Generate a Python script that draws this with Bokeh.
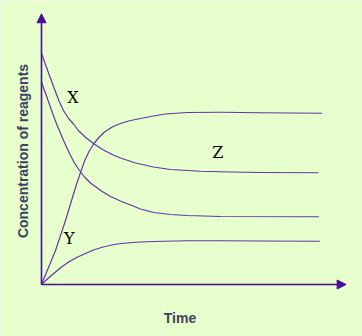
from bokeh.plotting import figure
from bokeh.models import Range1d, Arrow, NormalHead, Label, ColumnDataSource
from bokeh.core.properties import value
from bokeh.embed import file_html
from bokeh.resources import INLINE
import math

# ---- data (time units, concentration units) ----
x_top_t = [0, 0.143, 0.261, 0.429, 0.618, 0.786, 0.975, 1.143, 1.332, 1.571, 1.868, 2.179, 2.525,
           2.821, 3.357, 4.0, 4.607, 5.679, 6.75, 7.821, 9.893]
x_top_c = [0.924, 0.88, 0.843, 0.792, 0.736, 0.696, 0.663, 0.642, 0.614, 0.589, 0.563, 0.54, 0.52,
           0.506, 0.486, 0.47, 0.46, 0.453, 0.45, 0.448, 0.447]

y_dec_t = [0, 0.179, 0.382, 0.554, 0.739, 0.893, 1.036, 1.179, 1.332, 1.536, 1.75, 2.168, 2.464,
           2.821, 3.179, 3.536, 4.011, 4.607, 5.204, 6.393, 9.904]
y_dec_c = [0.809, 0.754, 0.689, 0.638, 0.589, 0.55, 0.516, 0.486, 0.46, 0.43, 0.406, 0.372, 0.352,
           0.334, 0.318, 0.302, 0.288, 0.28, 0.276, 0.272, 0.271]

z_rise_t = [0, 0.25, 0.5, 0.679, 0.857, 1.036, 1.214, 1.393, 1.546, 1.696, 1.868, 2.036, 2.25, 2.525,
            2.821, 3.107, 3.357, 3.714, 4.0, 4.429, 5.204, 6.393, 7.821, 10.025]
z_rise_c = [0, 0.068, 0.136, 0.196, 0.256, 0.322, 0.388, 0.448, 0.496, 0.532, 0.563, 0.586, 0.61, 0.63,
            0.644, 0.654, 0.66, 0.668, 0.674, 0.682, 0.688, 0.689, 0.687, 0.685]

low_rise_t = [0, 0.25, 0.5, 0.739, 0.975, 1.25, 1.571, 1.857, 2.168, 2.464, 2.761, 3.357, 4.0,
              5.204, 6.393, 7.821, 9.939]
low_rise_c = [0, 0.026, 0.05, 0.072, 0.09, 0.108, 0.124, 0.138, 0.149, 0.157, 0.163, 0.169, 0.172,
              0.175, 0.175, 0.174, 0.173]

label_names = ["X", "Y", "Z"]
label_t = [1.125, 0.993, 6.296]
label_c = [0.749, 0.185, 0.529]

x_title = "Time"
y_title = "Concentration of reagents"

BG = "#e6ffcc"
AXIS = "#4b0c9c"
CURVE = "#6236a8"
TITLE = "#404060"

p = figure(width=362, height=336,
           x_range=Range1d(-41 / 28, 321 / 28),
           y_range=Range1d(-52 / 250, 284 / 250),
           x_axis_type=None, y_axis_type=None,
           toolbar_location=None, output_backend="svg",
           min_border=0, min_border_left=0, min_border_right=0,
           min_border_top=0, min_border_bottom=0,
           background_fill_color=BG, border_fill_color=BG,
           outline_line_color=None)
p.grid.visible = False

for ts, cs in [(x_top_t, x_top_c), (y_dec_t, y_dec_c), (z_rise_t, z_rise_c), (low_rise_t, low_rise_c)]:
    p.line(ts, cs, line_color=CURVE, line_width=1.2, line_join="round")

# axes as arrows
p.add_layout(Arrow(x_start=0, y_start=0, x_end=0, y_end=1.083,
                   line_color=AXIS, line_width=1.6,
                   end=NormalHead(size=9, fill_color=AXIS, line_color=AXIS)))
p.add_layout(Arrow(x_start=0, y_start=0, x_end=10.88, y_end=0,
                   line_color=AXIS, line_width=1.6,
                   end=NormalHead(size=9, fill_color=AXIS, line_color=AXIS)))

src = ColumnDataSource(dict(t=label_t, c=label_c, txt=label_names))
p.text(x="t", y="c", text="txt", source=src, text_align="center",
       text_baseline="alphabetic", text_font=value("DejaVu Serif"),
       text_font_size="16px", text_color="black")

p.add_layout(Label(x=4.946, y=-0.135, text=x_title, text_align="center",
                   text_baseline="alphabetic", text_font="Liberation Sans",
                   text_font_style="bold", text_font_size="14px", text_color=TITLE))
p.add_layout(Label(x=-0.643, y=0.534, text=y_title, angle=math.pi / 2,
                   text_align="center", text_baseline="alphabetic",
                   text_font="Liberation Sans", text_font_style="bold",
                   text_font_size="14px", text_color=TITLE))

open("out.html", "w").write(file_html(p, INLINE))
